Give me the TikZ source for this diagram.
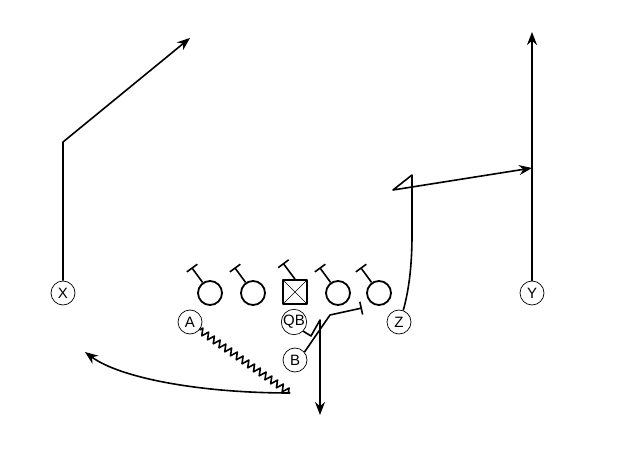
\documentclass[tikz,border=0pt]{standalone}
\usepackage{fontspec}
\setmainfont{Liberation Sans}
\usetikzlibrary{positioning, arrows.meta, decorations.pathmorphing}
\tikzset{every picture/.style={line width=1.6pt, line join=round}}

\begin{document}
\begin{tikzpicture}[x=1pt,y=-1pt,>={Stealth[length=13pt,width=10pt]},
  player/.style={circle, draw, line width=0.7pt, minimum size=24pt, inner sep=0pt,
    font=\fontsize{15}{15}\selectfont},
  lineman/.style={circle, draw, line width=1.8pt, minimum size=24pt, inner sep=0pt},
  center/.style={draw, line width=1.8pt, minimum size=24pt, inner sep=0pt,
    path picture={\draw [line width=0.6pt]
      (path picture bounding box.south west) -- (path picture bounding box.north east)
      (path picture bounding box.north west) -- (path picture bounding box.south east);}},
  block/.style={-{Bar[width=13pt]}},
  motion/.style={decorate, decoration={zigzag, segment length=7pt, amplitude=3.5pt}}]
  \useasboundingbox (0,0) rectangle (624,454);

  \node [player] (X)  at (63,293)  {X};
  \node [player] (Y)  at (532,293) {Y};
  \node [player] (A)  at (190,322) {A};
  \node [player] (QB) at (294,322) {QB};
  \node [player] (Z)  at (399,322) {Z};
  \node [player] (B)  at (295,360) {B};

  \node [lineman] (L1) at (210,293) {};
  \node [lineman] (L2) at (253,293) {};
  \node [center]  (C)  at (295,292) {};
  \node [lineman] (R1) at (338,293) {};
  \node [lineman] (R2) at (379,293) {};

  \foreach \n in {L1,L2,R1,R2}
    \draw [block] (\n.125) -- ++(-11,-15);
  \draw [block] (C.north) -- ++(-12,-16);

  \coordinate (xbrk) at (63,142);
  \coordinate (xend) at (190,38);
  \draw [->] (X) -- (xbrk) -- (xend);

  \coordinate (yend) at (532,32);
  \draw [->] (Y) -- (yend);

  \coordinate (zcut) at (412,235);
  \coordinate (zup)  at (412,175);
  \coordinate (zbk)  at (393,190);
  \coordinate (zend) at (532,168);
  \draw [->] (Z.70) .. controls (409,290) and (412,265) .. (zcut)
    -- (zup) -- (zbk) -- (zend);

  \coordinate (qfk)  at (311,336);
  \coordinate (qpv)  at (320,320);
  \coordinate (qend) at (320,415);
  \draw [->] (QB.-45) -- (qfk) -- (qpv) -- (qend);

  \coordinate (bcut) at (330,315);
  \coordinate (bblk) at (362,308);
  \draw [block] (B.40) -- (bcut) -- (bblk);

  \coordinate (amot) at (290,393);
  \coordinate (aend) at (85,352);
  \draw [motion] (A.-40) -- (amot);
  \draw [->] (amot) .. controls (200,393) and (120,378) .. (aend);
\end{tikzpicture}
\end{document}
